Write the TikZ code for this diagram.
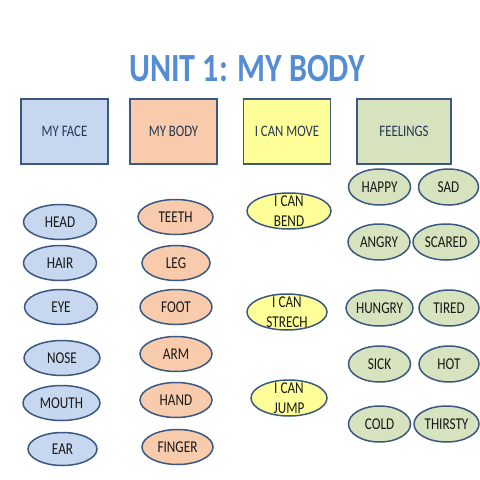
\documentclass[tikz,border=0pt]{standalone}
\usepackage{fontspec}
\setmainfont{Carlito}[FakeStretch=0.8]
\usetikzlibrary{shapes.geometric,positioning}
\definecolor{titleblue}{RGB}{84,141,212}
\definecolor{edge}{RGB}{58,88,128}
\definecolor{headtext}{RGB}{35,55,85}
\definecolor{faceblue}{RGB}{198,215,239}
\definecolor{bodypeach}{RGB}{248,203,173}
\definecolor{moveyellow}{RGB}{255,255,153}
\definecolor{feelgreen}{RGB}{215,227,190}
\begin{document}
\begin{tikzpicture}
[x=1pt,y=-1pt,
head/.style = {draw=edge, line width=1.5pt, minimum width=87pt, minimum height=65pt, text=headtext, font=\fontsize{16}{18}\selectfont},
word/.style = {ellipse, draw=edge, line width=1.5pt, inner sep=0pt, minimum width=73pt, minimum height=35pt, text=black!90, font=\fontsize{16.5}{18}\selectfont},
face/.style = {word, fill=faceblue},
body/.style = {word, fill=bodypeach, minimum width=72pt},
move/.style = {word, fill=moveyellow, minimum height=36pt},
movetext/.style = {align=center, text=black!90, font=\fontsize{16.5}{20.5}\selectfont},
feel/.style = {word, fill=feelgreen, minimum width=62pt, minimum height=36pt},
]
\useasboundingbox (0,0) rectangle (480,480);
% title
\node (title) at (247,69) [text=titleblue, font=\fontsize{40}{44}\selectfont\bfseries] {UNIT 1: MY BODY};
% headers
\node (myface) at (64.5,131.5) [head, fill=faceblue] {MY FACE};
\node (mybody) at (173.5,131.5) [head, fill=bodypeach] {MY BODY};
\node (icanmove) at (287,131.5) [head, fill=moveyellow] {I CAN MOVE};
\node (feelings) at (404,131.5) [head, fill=feelgreen, minimum width=94pt] {FEELINGS};
% my face
\node (headw) at (60,222) [face] {HEAD};
\node (hair) at (60,263) [face] {HAIR};
\node (eye) at (61,307) [face] {EYE};
\node (nose) at (62,358) [face, minimum width=76pt] {NOSE};
\node (mouth) at (61.5,403) [face, minimum width=77pt] {MOUTH};
\node (ear) at (62.5,449) [face, minimum width=69pt, minimum height=33pt] {EAR};
% my body
\node (teeth) at (175.5,217) [body, minimum width=75pt] {TEETH};
\node (leg) at (176,263) [body, minimum width=68pt] {LEG};
\node (foot) at (176,307) [body] {FOOT};
\node (arm) at (176,354) [body] {ARM};
\node (hand) at (176,400) [body] {HAND};
\node (finger) at (177.5,447) [body, minimum width=71pt] {FINGER};
% i can move
\node (bend) at (289,211) [move, minimum width=84pt, label={[movetext]center:I CAN\\BEND}] {};
\node (strech) at (287,312) [move, minimum width=80pt, label={[movetext]center:I CAN\\STRECH}] {};
\node (jump) at (289,398) [move, minimum width=76pt, label={[movetext]center:I CAN\\JUMP}] {};
% feelings
\node (happy) at (379.5,187) [feel] {HAPPY};
\node (sad) at (448.5,187) [feel, minimum width=60pt] {SAD};
\node (angry) at (379,242) [feel] {ANGRY};
\node (scared) at (446,242) [feel, minimum width=66pt] {SCARED};
\node (hungry) at (379.5,308) [feel, minimum width=67pt] {HUNGRY};
\node (tired) at (449,308) [feel, minimum width=60pt] {TIRED};
\node (sick) at (379.5,364) [feel] {SICK};
\node (hot) at (449,364) [feel, minimum width=60pt] {HOT};
\node (cold) at (379.5,424) [feel] {COLD};
\node (thirsty) at (446.5,424) [feel, minimum width=65pt] {THIRSTY};
\end{tikzpicture}
\end{document}
